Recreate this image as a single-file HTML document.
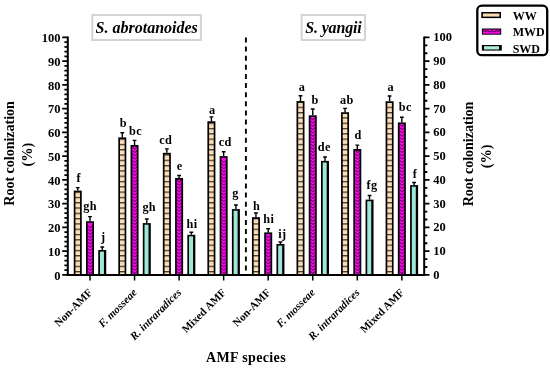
<!DOCTYPE html>
<html><head><meta charset="utf-8"><title>Root colonization</title>
<style>html,body{margin:0;padding:0;background:#fff}svg{display:block}</style></head>
<body>
<svg width="550" height="368" viewBox="0 0 550 368" font-family="'Liberation Serif', 'Times New Roman', serif" font-weight="bold">
<defs>
<pattern id="pw" x="0" y="106.7" width="60" height="5.3" patternUnits="userSpaceOnUse"><rect width="60" height="5.3" fill="#fde2bc"/><rect y="0" width="60" height="1.3" fill="#40352b"/><rect y="2.85" width="60" height="0.6" fill="#f6d3a8"/></pattern>
<pattern id="pm" x="0" y="0" width="60" height="3.27" patternUnits="userSpaceOnUse"><rect width="60" height="3.27" fill="#ff0aee"/></pattern>
</defs>
<rect width="550" height="368" fill="#fff"/>
<rect x="74.60" y="191.44" width="6.30" height="83.46" fill="url(#pw)" stroke="#000" stroke-width="1.7"/>
<path d="M77.75 190.59V187.02M75.85 187.62H79.65" stroke="#000" stroke-width="1.4" fill="none"/>
<text transform="translate(78.65 181.90) scale(1.06 1)" font-size="11.6" text-anchor="middle">f</text>
<rect x="86.85" y="222.07" width="6.30" height="52.83" fill="#ff0aee"/>
<path d="M87.40 225.63L90.30 227.73L92.60 225.63M87.40 228.90L90.30 231.00L92.60 228.90M87.40 232.17L90.30 234.27L92.60 232.17M87.40 235.44L90.30 237.54L92.60 235.44M87.40 238.71L90.30 240.81L92.60 238.71M87.40 241.98L90.30 244.08L92.60 241.98M87.40 245.25L90.30 247.35L92.60 245.25M87.40 248.52L90.30 250.62L92.60 248.52M87.40 251.79L90.30 253.89L92.60 251.79M87.40 255.06L90.30 257.16L92.60 255.06M87.40 258.33L90.30 260.43L92.60 258.33M87.40 261.60L90.30 263.70L92.60 261.60M87.40 264.87L90.30 266.97L92.60 264.87M87.40 268.14L90.30 270.24L92.60 268.14M87.40 271.41L90.30 273.51L92.60 271.41" stroke="#7a0078" stroke-width="1.1" fill="none" stroke-linejoin="miter"/>
<rect x="86.85" y="222.07" width="6.30" height="52.83" fill="none" stroke="#000" stroke-width="1.7"/>
<path d="M90.00 221.22V216.00M88.10 216.60H91.90" stroke="#000" stroke-width="1.4" fill="none"/>
<text transform="translate(90.10 209.90) scale(1.06 1)" font-size="11.6" text-anchor="middle" letter-spacing="0.3">gh</text>
<rect x="98.25" y="249.96" width="8.00" height="24.94" fill="#000"/>
<rect x="99.95" y="251.56" width="4.00" height="23.34" fill="#9fe8d8"/>
<path d="M102.25 249.96V246.40M100.35 247.00H104.15" stroke="#000" stroke-width="1.4" fill="none"/>
<text transform="translate(103.10 240.70) scale(1.06 1)" font-size="11.6" text-anchor="middle">j</text>
<rect x="119.15" y="138.24" width="6.30" height="136.66" fill="url(#pw)" stroke="#000" stroke-width="1.7"/>
<path d="M122.30 137.39V132.16M120.40 132.76H124.20" stroke="#000" stroke-width="1.4" fill="none"/>
<text transform="translate(123.25 126.90) scale(1.06 1)" font-size="11.6" text-anchor="middle">b</text>
<rect x="131.40" y="145.84" width="6.30" height="129.06" fill="#ff0aee"/>
<path d="M131.95 147.15L134.85 149.25L137.15 147.15M131.95 150.42L134.85 152.52L137.15 150.42M131.95 153.69L134.85 155.79L137.15 153.69M131.95 156.96L134.85 159.06L137.15 156.96M131.95 160.23L134.85 162.33L137.15 160.23M131.95 163.50L134.85 165.60L137.15 163.50M131.95 166.77L134.85 168.87L137.15 166.77M131.95 170.04L134.85 172.14L137.15 170.04M131.95 173.31L134.85 175.41L137.15 173.31M131.95 176.58L134.85 178.68L137.15 176.58M131.95 179.85L134.85 181.95L137.15 179.85M131.95 183.12L134.85 185.22L137.15 183.12M131.95 186.39L134.85 188.49L137.15 186.39M131.95 189.66L134.85 191.76L137.15 189.66M131.95 192.93L134.85 195.03L137.15 192.93M131.95 196.20L134.85 198.30L137.15 196.20M131.95 199.47L134.85 201.57L137.15 199.47M131.95 202.74L134.85 204.84L137.15 202.74M131.95 206.01L134.85 208.11L137.15 206.01M131.95 209.28L134.85 211.38L137.15 209.28M131.95 212.55L134.85 214.65L137.15 212.55M131.95 215.82L134.85 217.92L137.15 215.82M131.95 219.09L134.85 221.19L137.15 219.09M131.95 222.36L134.85 224.46L137.15 222.36M131.95 225.63L134.85 227.73L137.15 225.63M131.95 228.90L134.85 231.00L137.15 228.90M131.95 232.17L134.85 234.27L137.15 232.17M131.95 235.44L134.85 237.54L137.15 235.44M131.95 238.71L134.85 240.81L137.15 238.71M131.95 241.98L134.85 244.08L137.15 241.98M131.95 245.25L134.85 247.35L137.15 245.25M131.95 248.52L134.85 250.62L137.15 248.52M131.95 251.79L134.85 253.89L137.15 251.79M131.95 255.06L134.85 257.16L137.15 255.06M131.95 258.33L134.85 260.43L137.15 258.33M131.95 261.60L134.85 263.70L137.15 261.60M131.95 264.87L134.85 266.97L137.15 264.87M131.95 268.14L134.85 270.24L137.15 268.14M131.95 271.41L134.85 273.51L137.15 271.41" stroke="#7a0078" stroke-width="1.1" fill="none" stroke-linejoin="miter"/>
<rect x="131.40" y="145.84" width="6.30" height="129.06" fill="none" stroke="#000" stroke-width="1.7"/>
<path d="M134.55 144.99V139.76M132.65 140.36H136.45" stroke="#000" stroke-width="1.4" fill="none"/>
<text transform="translate(135.50 135.40) scale(1.06 1)" font-size="11.6" text-anchor="middle" letter-spacing="0.3">bc</text>
<rect x="142.80" y="223.12" width="8.00" height="51.78" fill="#000"/>
<rect x="144.50" y="224.72" width="4.00" height="50.18" fill="#9fe8d8"/>
<path d="M146.80 223.12V218.37M144.90 218.97H148.70" stroke="#000" stroke-width="1.4" fill="none"/>
<text transform="translate(149.20 210.90) scale(1.06 1)" font-size="11.6" text-anchor="middle" letter-spacing="0.3">gh</text>
<rect x="163.70" y="153.67" width="6.30" height="121.22" fill="url(#pw)" stroke="#000" stroke-width="1.7"/>
<path d="M166.85 152.82V148.31M164.95 148.91H168.75" stroke="#000" stroke-width="1.4" fill="none"/>
<text transform="translate(165.80 143.90) scale(1.06 1)" font-size="11.6" text-anchor="middle" letter-spacing="0.3">cd</text>
<rect x="175.95" y="178.85" width="6.30" height="96.05" fill="#ff0aee"/>
<path d="M176.50 179.85L179.40 181.95L181.70 179.85M176.50 183.12L179.40 185.22L181.70 183.12M176.50 186.39L179.40 188.49L181.70 186.39M176.50 189.66L179.40 191.76L181.70 189.66M176.50 192.93L179.40 195.03L181.70 192.93M176.50 196.20L179.40 198.30L181.70 196.20M176.50 199.47L179.40 201.57L181.70 199.47M176.50 202.74L179.40 204.84L181.70 202.74M176.50 206.01L179.40 208.11L181.70 206.01M176.50 209.28L179.40 211.38L181.70 209.28M176.50 212.55L179.40 214.65L181.70 212.55M176.50 215.82L179.40 217.92L181.70 215.82M176.50 219.09L179.40 221.19L181.70 219.09M176.50 222.36L179.40 224.46L181.70 222.36M176.50 225.63L179.40 227.73L181.70 225.63M176.50 228.90L179.40 231.00L181.70 228.90M176.50 232.17L179.40 234.27L181.70 232.17M176.50 235.44L179.40 237.54L181.70 235.44M176.50 238.71L179.40 240.81L181.70 238.71M176.50 241.98L179.40 244.08L181.70 241.98M176.50 245.25L179.40 247.35L181.70 245.25M176.50 248.52L179.40 250.62L181.70 248.52M176.50 251.79L179.40 253.89L181.70 251.79M176.50 255.06L179.40 257.16L181.70 255.06M176.50 258.33L179.40 260.43L181.70 258.33M176.50 261.60L179.40 263.70L181.70 261.60M176.50 264.87L179.40 266.97L181.70 264.87M176.50 268.14L179.40 270.24L181.70 268.14M176.50 271.41L179.40 273.51L181.70 271.41" stroke="#7a0078" stroke-width="1.1" fill="none" stroke-linejoin="miter"/>
<rect x="175.95" y="178.85" width="6.30" height="96.05" fill="none" stroke="#000" stroke-width="1.7"/>
<path d="M179.10 178.00V174.91M177.20 175.51H181.00" stroke="#000" stroke-width="1.4" fill="none"/>
<text transform="translate(179.50 169.90) scale(1.06 1)" font-size="11.6" text-anchor="middle">e</text>
<rect x="187.35" y="234.76" width="8.00" height="40.14" fill="#000"/>
<rect x="189.05" y="236.36" width="4.00" height="38.54" fill="#9fe8d8"/>
<path d="M191.35 234.76V231.67M189.45 232.27H193.25" stroke="#000" stroke-width="1.4" fill="none"/>
<text transform="translate(192.00 228.20) scale(1.06 1)" font-size="11.6" text-anchor="middle" letter-spacing="0.3">hi</text>
<rect x="208.25" y="122.09" width="6.30" height="152.81" fill="url(#pw)" stroke="#000" stroke-width="1.7"/>
<path d="M211.40 121.24V116.25M209.50 116.85H213.30" stroke="#000" stroke-width="1.4" fill="none"/>
<text transform="translate(212.00 114.20) scale(1.06 1)" font-size="11.6" text-anchor="middle">a</text>
<rect x="220.50" y="157.00" width="6.30" height="117.90" fill="#ff0aee"/>
<path d="M221.05 160.23L223.95 162.33L226.25 160.23M221.05 163.50L223.95 165.60L226.25 163.50M221.05 166.77L223.95 168.87L226.25 166.77M221.05 170.04L223.95 172.14L226.25 170.04M221.05 173.31L223.95 175.41L226.25 173.31M221.05 176.58L223.95 178.68L226.25 176.58M221.05 179.85L223.95 181.95L226.25 179.85M221.05 183.12L223.95 185.22L226.25 183.12M221.05 186.39L223.95 188.49L226.25 186.39M221.05 189.66L223.95 191.76L226.25 189.66M221.05 192.93L223.95 195.03L226.25 192.93M221.05 196.20L223.95 198.30L226.25 196.20M221.05 199.47L223.95 201.57L226.25 199.47M221.05 202.74L223.95 204.84L226.25 202.74M221.05 206.01L223.95 208.11L226.25 206.01M221.05 209.28L223.95 211.38L226.25 209.28M221.05 212.55L223.95 214.65L226.25 212.55M221.05 215.82L223.95 217.92L226.25 215.82M221.05 219.09L223.95 221.19L226.25 219.09M221.05 222.36L223.95 224.46L226.25 222.36M221.05 225.63L223.95 227.73L226.25 225.63M221.05 228.90L223.95 231.00L226.25 228.90M221.05 232.17L223.95 234.27L226.25 232.17M221.05 235.44L223.95 237.54L226.25 235.44M221.05 238.71L223.95 240.81L226.25 238.71M221.05 241.98L223.95 244.08L226.25 241.98M221.05 245.25L223.95 247.35L226.25 245.25M221.05 248.52L223.95 250.62L226.25 248.52M221.05 251.79L223.95 253.89L226.25 251.79M221.05 255.06L223.95 257.16L226.25 255.06M221.05 258.33L223.95 260.43L226.25 258.33M221.05 261.60L223.95 263.70L226.25 261.60M221.05 264.87L223.95 266.97L226.25 264.87M221.05 268.14L223.95 270.24L226.25 268.14M221.05 271.41L223.95 273.51L226.25 271.41" stroke="#7a0078" stroke-width="1.1" fill="none" stroke-linejoin="miter"/>
<rect x="220.50" y="157.00" width="6.30" height="117.90" fill="none" stroke="#000" stroke-width="1.7"/>
<path d="M223.65 156.15V151.16M221.75 151.76H225.55" stroke="#000" stroke-width="1.4" fill="none"/>
<text transform="translate(225.20 145.60) scale(1.06 1)" font-size="11.6" text-anchor="middle" letter-spacing="0.3">cd</text>
<rect x="231.90" y="209.11" width="8.00" height="65.79" fill="#000"/>
<rect x="233.60" y="210.71" width="4.00" height="64.19" fill="#9fe8d8"/>
<path d="M235.90 209.11V204.36M234.00 204.96H237.80" stroke="#000" stroke-width="1.4" fill="none"/>
<text transform="translate(235.20 197.40) scale(1.06 1)" font-size="11.6" text-anchor="middle">g</text>
<rect x="252.80" y="218.04" width="6.30" height="56.86" fill="url(#pw)" stroke="#000" stroke-width="1.7"/>
<path d="M255.95 217.19V212.44M254.05 213.04H257.85" stroke="#000" stroke-width="1.4" fill="none"/>
<text transform="translate(256.40 209.90) scale(1.06 1)" font-size="11.6" text-anchor="middle">h</text>
<rect x="265.05" y="233.24" width="6.30" height="41.66" fill="#ff0aee"/>
<path d="M265.60 235.44L268.50 237.54L270.80 235.44M265.60 238.71L268.50 240.81L270.80 238.71M265.60 241.98L268.50 244.08L270.80 241.98M265.60 245.25L268.50 247.35L270.80 245.25M265.60 248.52L268.50 250.62L270.80 248.52M265.60 251.79L268.50 253.89L270.80 251.79M265.60 255.06L268.50 257.16L270.80 255.06M265.60 258.33L268.50 260.43L270.80 258.33M265.60 261.60L268.50 263.70L270.80 261.60M265.60 264.87L268.50 266.97L270.80 264.87M265.60 268.14L268.50 270.24L270.80 268.14M265.60 271.41L268.50 273.51L270.80 271.41" stroke="#7a0078" stroke-width="1.1" fill="none" stroke-linejoin="miter"/>
<rect x="265.05" y="233.24" width="6.30" height="41.66" fill="none" stroke="#000" stroke-width="1.7"/>
<path d="M268.20 232.39V228.11M266.30 228.71H270.10" stroke="#000" stroke-width="1.4" fill="none"/>
<text transform="translate(268.80 223.10) scale(1.06 1)" font-size="11.6" text-anchor="middle" letter-spacing="0.3">hi</text>
<rect x="276.45" y="244.02" width="8.00" height="30.88" fill="#000"/>
<rect x="278.15" y="245.62" width="4.00" height="29.27" fill="#9fe8d8"/>
<path d="M280.45 244.02V241.41M278.55 242.01H282.35" stroke="#000" stroke-width="1.4" fill="none"/>
<text transform="translate(282.40 237.80) scale(1.06 1)" font-size="11.6" text-anchor="middle" letter-spacing="0.3">ij</text>
<rect x="297.35" y="101.90" width="6.30" height="173.00" fill="url(#pw)" stroke="#000" stroke-width="1.7"/>
<path d="M300.50 101.05V95.11M298.60 95.71H302.40" stroke="#000" stroke-width="1.4" fill="none"/>
<text transform="translate(301.75 90.70) scale(1.06 1)" font-size="11.6" text-anchor="middle">a</text>
<rect x="309.60" y="116.15" width="6.30" height="158.75" fill="#ff0aee"/>
<path d="M310.15 117.72L313.05 119.82L315.35 117.72M310.15 120.99L313.05 123.09L315.35 120.99M310.15 124.26L313.05 126.36L315.35 124.26M310.15 127.53L313.05 129.63L315.35 127.53M310.15 130.80L313.05 132.90L315.35 130.80M310.15 134.07L313.05 136.17L315.35 134.07M310.15 137.34L313.05 139.44L315.35 137.34M310.15 140.61L313.05 142.71L315.35 140.61M310.15 143.88L313.05 145.98L315.35 143.88M310.15 147.15L313.05 149.25L315.35 147.15M310.15 150.42L313.05 152.52L315.35 150.42M310.15 153.69L313.05 155.79L315.35 153.69M310.15 156.96L313.05 159.06L315.35 156.96M310.15 160.23L313.05 162.33L315.35 160.23M310.15 163.50L313.05 165.60L315.35 163.50M310.15 166.77L313.05 168.87L315.35 166.77M310.15 170.04L313.05 172.14L315.35 170.04M310.15 173.31L313.05 175.41L315.35 173.31M310.15 176.58L313.05 178.68L315.35 176.58M310.15 179.85L313.05 181.95L315.35 179.85M310.15 183.12L313.05 185.22L315.35 183.12M310.15 186.39L313.05 188.49L315.35 186.39M310.15 189.66L313.05 191.76L315.35 189.66M310.15 192.93L313.05 195.03L315.35 192.93M310.15 196.20L313.05 198.30L315.35 196.20M310.15 199.47L313.05 201.57L315.35 199.47M310.15 202.74L313.05 204.84L315.35 202.74M310.15 206.01L313.05 208.11L315.35 206.01M310.15 209.28L313.05 211.38L315.35 209.28M310.15 212.55L313.05 214.65L315.35 212.55M310.15 215.82L313.05 217.92L315.35 215.82M310.15 219.09L313.05 221.19L315.35 219.09M310.15 222.36L313.05 224.46L315.35 222.36M310.15 225.63L313.05 227.73L315.35 225.63M310.15 228.90L313.05 231.00L315.35 228.90M310.15 232.17L313.05 234.27L315.35 232.17M310.15 235.44L313.05 237.54L315.35 235.44M310.15 238.71L313.05 240.81L315.35 238.71M310.15 241.98L313.05 244.08L315.35 241.98M310.15 245.25L313.05 247.35L315.35 245.25M310.15 248.52L313.05 250.62L315.35 248.52M310.15 251.79L313.05 253.89L315.35 251.79M310.15 255.06L313.05 257.16L315.35 255.06M310.15 258.33L313.05 260.43L315.35 258.33M310.15 261.60L313.05 263.70L315.35 261.60M310.15 264.87L313.05 266.97L315.35 264.87M310.15 268.14L313.05 270.24L315.35 268.14M310.15 271.41L313.05 273.51L315.35 271.41" stroke="#7a0078" stroke-width="1.1" fill="none" stroke-linejoin="miter"/>
<rect x="309.60" y="116.15" width="6.30" height="158.75" fill="none" stroke="#000" stroke-width="1.7"/>
<path d="M312.75 115.30V108.41M310.85 109.01H314.65" stroke="#000" stroke-width="1.4" fill="none"/>
<text transform="translate(315.00 104.40) scale(1.06 1)" font-size="11.6" text-anchor="middle">b</text>
<rect x="321.00" y="160.90" width="8.00" height="114.00" fill="#000"/>
<rect x="322.70" y="162.50" width="4.00" height="112.40" fill="#9fe8d8"/>
<path d="M325.00 160.90V156.39M323.10 156.99H326.90" stroke="#000" stroke-width="1.4" fill="none"/>
<text transform="translate(324.20 151.40) scale(1.06 1)" font-size="11.6" text-anchor="middle" letter-spacing="0.3">de</text>
<rect x="341.90" y="113.06" width="6.30" height="161.84" fill="url(#pw)" stroke="#000" stroke-width="1.7"/>
<path d="M345.05 112.21V107.82M343.15 108.42H346.95" stroke="#000" stroke-width="1.4" fill="none"/>
<text transform="translate(346.90 103.70) scale(1.06 1)" font-size="11.6" text-anchor="middle" letter-spacing="0.3">ab</text>
<rect x="354.15" y="149.87" width="6.30" height="125.03" fill="#ff0aee"/>
<path d="M354.70 150.42L357.60 152.52L359.90 150.42M354.70 153.69L357.60 155.79L359.90 153.69M354.70 156.96L357.60 159.06L359.90 156.96M354.70 160.23L357.60 162.33L359.90 160.23M354.70 163.50L357.60 165.60L359.90 163.50M354.70 166.77L357.60 168.87L359.90 166.77M354.70 170.04L357.60 172.14L359.90 170.04M354.70 173.31L357.60 175.41L359.90 173.31M354.70 176.58L357.60 178.68L359.90 176.58M354.70 179.85L357.60 181.95L359.90 179.85M354.70 183.12L357.60 185.22L359.90 183.12M354.70 186.39L357.60 188.49L359.90 186.39M354.70 189.66L357.60 191.76L359.90 189.66M354.70 192.93L357.60 195.03L359.90 192.93M354.70 196.20L357.60 198.30L359.90 196.20M354.70 199.47L357.60 201.57L359.90 199.47M354.70 202.74L357.60 204.84L359.90 202.74M354.70 206.01L357.60 208.11L359.90 206.01M354.70 209.28L357.60 211.38L359.90 209.28M354.70 212.55L357.60 214.65L359.90 212.55M354.70 215.82L357.60 217.92L359.90 215.82M354.70 219.09L357.60 221.19L359.90 219.09M354.70 222.36L357.60 224.46L359.90 222.36M354.70 225.63L357.60 227.73L359.90 225.63M354.70 228.90L357.60 231.00L359.90 228.90M354.70 232.17L357.60 234.27L359.90 232.17M354.70 235.44L357.60 237.54L359.90 235.44M354.70 238.71L357.60 240.81L359.90 238.71M354.70 241.98L357.60 244.08L359.90 241.98M354.70 245.25L357.60 247.35L359.90 245.25M354.70 248.52L357.60 250.62L359.90 248.52M354.70 251.79L357.60 253.89L359.90 251.79M354.70 255.06L357.60 257.16L359.90 255.06M354.70 258.33L357.60 260.43L359.90 258.33M354.70 261.60L357.60 263.70L359.90 261.60M354.70 264.87L357.60 266.97L359.90 264.87M354.70 268.14L357.60 270.24L359.90 268.14M354.70 271.41L357.60 273.51L359.90 271.41" stroke="#7a0078" stroke-width="1.1" fill="none" stroke-linejoin="miter"/>
<rect x="354.15" y="149.87" width="6.30" height="125.03" fill="none" stroke="#000" stroke-width="1.7"/>
<path d="M357.30 149.02V144.51M355.40 145.11H359.20" stroke="#000" stroke-width="1.4" fill="none"/>
<text transform="translate(357.90 138.70) scale(1.06 1)" font-size="11.6" text-anchor="middle">d</text>
<rect x="365.55" y="199.61" width="8.00" height="75.29" fill="#000"/>
<rect x="367.25" y="201.21" width="4.00" height="73.69" fill="#9fe8d8"/>
<path d="M369.55 199.61V194.86M367.65 195.46H371.45" stroke="#000" stroke-width="1.4" fill="none"/>
<text transform="translate(372.00 189.40) scale(1.06 1)" font-size="11.6" text-anchor="middle" letter-spacing="0.3">fg</text>
<rect x="386.45" y="102.14" width="6.30" height="172.76" fill="url(#pw)" stroke="#000" stroke-width="1.7"/>
<path d="M389.60 101.29V95.35M387.70 95.95H391.50" stroke="#000" stroke-width="1.4" fill="none"/>
<text transform="translate(390.60 91.40) scale(1.06 1)" font-size="11.6" text-anchor="middle">a</text>
<rect x="398.70" y="123.27" width="6.30" height="151.62" fill="#ff0aee"/>
<path d="M399.25 124.26L402.15 126.36L404.45 124.26M399.25 127.53L402.15 129.63L404.45 127.53M399.25 130.80L402.15 132.90L404.45 130.80M399.25 134.07L402.15 136.17L404.45 134.07M399.25 137.34L402.15 139.44L404.45 137.34M399.25 140.61L402.15 142.71L404.45 140.61M399.25 143.88L402.15 145.98L404.45 143.88M399.25 147.15L402.15 149.25L404.45 147.15M399.25 150.42L402.15 152.52L404.45 150.42M399.25 153.69L402.15 155.79L404.45 153.69M399.25 156.96L402.15 159.06L404.45 156.96M399.25 160.23L402.15 162.33L404.45 160.23M399.25 163.50L402.15 165.60L404.45 163.50M399.25 166.77L402.15 168.87L404.45 166.77M399.25 170.04L402.15 172.14L404.45 170.04M399.25 173.31L402.15 175.41L404.45 173.31M399.25 176.58L402.15 178.68L404.45 176.58M399.25 179.85L402.15 181.95L404.45 179.85M399.25 183.12L402.15 185.22L404.45 183.12M399.25 186.39L402.15 188.49L404.45 186.39M399.25 189.66L402.15 191.76L404.45 189.66M399.25 192.93L402.15 195.03L404.45 192.93M399.25 196.20L402.15 198.30L404.45 196.20M399.25 199.47L402.15 201.57L404.45 199.47M399.25 202.74L402.15 204.84L404.45 202.74M399.25 206.01L402.15 208.11L404.45 206.01M399.25 209.28L402.15 211.38L404.45 209.28M399.25 212.55L402.15 214.65L404.45 212.55M399.25 215.82L402.15 217.92L404.45 215.82M399.25 219.09L402.15 221.19L404.45 219.09M399.25 222.36L402.15 224.46L404.45 222.36M399.25 225.63L402.15 227.73L404.45 225.63M399.25 228.90L402.15 231.00L404.45 228.90M399.25 232.17L402.15 234.27L404.45 232.17M399.25 235.44L402.15 237.54L404.45 235.44M399.25 238.71L402.15 240.81L404.45 238.71M399.25 241.98L402.15 244.08L404.45 241.98M399.25 245.25L402.15 247.35L404.45 245.25M399.25 248.52L402.15 250.62L404.45 248.52M399.25 251.79L402.15 253.89L404.45 251.79M399.25 255.06L402.15 257.16L404.45 255.06M399.25 258.33L402.15 260.43L404.45 258.33M399.25 261.60L402.15 263.70L404.45 261.60M399.25 264.87L402.15 266.97L404.45 264.87M399.25 268.14L402.15 270.24L404.45 268.14M399.25 271.41L402.15 273.51L404.45 271.41" stroke="#7a0078" stroke-width="1.1" fill="none" stroke-linejoin="miter"/>
<rect x="398.70" y="123.27" width="6.30" height="151.62" fill="none" stroke="#000" stroke-width="1.7"/>
<path d="M401.85 122.42V116.61M399.95 117.21H403.75" stroke="#000" stroke-width="1.4" fill="none"/>
<text transform="translate(405.30 110.80) scale(1.06 1)" font-size="11.6" text-anchor="middle" letter-spacing="0.3">bc</text>
<rect x="410.10" y="185.12" width="8.00" height="89.77" fill="#000"/>
<rect x="411.80" y="186.72" width="4.00" height="88.17" fill="#9fe8d8"/>
<path d="M414.10 185.12V181.92M412.20 182.52H416.00" stroke="#000" stroke-width="1.4" fill="none"/>
<text transform="translate(414.90 177.90) scale(1.06 1)" font-size="11.6" text-anchor="middle">f</text>
<path d="M67.8 36.60V274.9M424.2 36.60V274.9" stroke="#000" stroke-width="2" fill="none"/>
<path d="M66.8 274.9H425.2" stroke="#000" stroke-width="2" fill="none"/>
<path d="M62.20 274.90H67.8M424.2 274.90h5.3M64.40 270.15H67.8M64.40 265.40H67.8M64.40 260.65H67.8M64.40 255.90H67.8M62.20 251.15H67.8M424.2 251.15h5.3M64.40 246.40H67.8M64.40 241.65H67.8M64.40 236.90H67.8M64.40 232.15H67.8M62.20 227.40H67.8M424.2 227.40h5.3M64.40 222.65H67.8M64.40 217.90H67.8M64.40 213.15H67.8M64.40 208.40H67.8M62.20 203.65H67.8M424.2 203.65h5.3M64.40 198.90H67.8M64.40 194.15H67.8M64.40 189.40H67.8M64.40 184.65H67.8M62.20 179.90H67.8M424.2 179.90h5.3M64.40 175.15H67.8M64.40 170.40H67.8M64.40 165.65H67.8M64.40 160.90H67.8M62.20 156.15H67.8M424.2 156.15h5.3M64.40 151.40H67.8M64.40 146.65H67.8M64.40 141.90H67.8M64.40 137.15H67.8M62.20 132.40H67.8M424.2 132.40h5.3M64.40 127.65H67.8M64.40 122.90H67.8M64.40 118.15H67.8M64.40 113.40H67.8M62.20 108.65H67.8M424.2 108.65h5.3M64.40 103.90H67.8M64.40 99.15H67.8M64.40 94.40H67.8M64.40 89.65H67.8M62.20 84.90H67.8M424.2 84.90h5.3M64.40 80.15H67.8M64.40 75.40H67.8M64.40 70.65H67.8M64.40 65.90H67.8M62.20 61.15H67.8M424.2 61.15h5.3M64.40 56.40H67.8M64.40 51.65H67.8M64.40 46.90H67.8M64.40 42.15H67.8M62.20 37.40H67.8M424.2 37.40h5.3M424.2 266.98h3.2M424.2 259.07h3.2M424.2 243.23h3.2M424.2 235.32h3.2M424.2 219.48h3.2M424.2 211.57h3.2M424.2 195.73h3.2M424.2 187.82h3.2M424.2 171.98h3.2M424.2 164.07h3.2M424.2 148.23h3.2M424.2 140.32h3.2M424.2 124.48h3.2M424.2 116.57h3.2M424.2 100.73h3.2M424.2 92.82h3.2M424.2 76.98h3.2M424.2 69.07h3.2M424.2 53.23h3.2M424.2 45.32h3.2" stroke="#000" stroke-width="1.8" fill="none"/>
<text transform="translate(60.50 279.60) scale(0.95 1)" font-size="13.2" text-anchor="end">0</text>
<text transform="translate(433.20 278.90) scale(0.95 1)" font-size="13.2">0</text>
<text transform="translate(60.50 255.85) scale(0.95 1)" font-size="13.2" text-anchor="end">10</text>
<text transform="translate(433.20 255.15) scale(0.95 1)" font-size="13.2">10</text>
<text transform="translate(60.50 232.10) scale(0.95 1)" font-size="13.2" text-anchor="end">20</text>
<text transform="translate(433.20 231.40) scale(0.95 1)" font-size="13.2">20</text>
<text transform="translate(60.50 208.35) scale(0.95 1)" font-size="13.2" text-anchor="end">30</text>
<text transform="translate(433.20 207.65) scale(0.95 1)" font-size="13.2">30</text>
<text transform="translate(60.50 184.60) scale(0.95 1)" font-size="13.2" text-anchor="end">40</text>
<text transform="translate(433.20 183.90) scale(0.95 1)" font-size="13.2">40</text>
<text transform="translate(60.50 160.85) scale(0.95 1)" font-size="13.2" text-anchor="end">50</text>
<text transform="translate(433.20 160.15) scale(0.95 1)" font-size="13.2">50</text>
<text transform="translate(60.50 137.10) scale(0.95 1)" font-size="13.2" text-anchor="end">60</text>
<text transform="translate(433.20 136.40) scale(0.95 1)" font-size="13.2">60</text>
<text transform="translate(60.50 113.35) scale(0.95 1)" font-size="13.2" text-anchor="end">70</text>
<text transform="translate(433.20 112.65) scale(0.95 1)" font-size="13.2">70</text>
<text transform="translate(60.50 89.60) scale(0.95 1)" font-size="13.2" text-anchor="end">80</text>
<text transform="translate(433.20 88.90) scale(0.95 1)" font-size="13.2">80</text>
<text transform="translate(60.50 65.85) scale(0.95 1)" font-size="13.2" text-anchor="end">90</text>
<text transform="translate(433.20 65.15) scale(0.95 1)" font-size="13.2">90</text>
<text transform="translate(60.50 42.10) scale(0.95 1)" font-size="13.2" text-anchor="end">100</text>
<text transform="translate(433.20 41.40) scale(0.95 1)" font-size="13.2">100</text>
<path d="M90.00 274.9v5.6M134.55 274.9v5.6M179.10 274.9v5.6M223.65 274.9v5.6M268.20 274.9v5.6M312.75 274.9v5.6M357.30 274.9v5.6M401.85 274.9v5.6" stroke="#000" stroke-width="1.5" fill="none"/>
<text transform="translate(90.40 290.60) rotate(-45)" x="0" y="3.6" font-size="11" text-anchor="end">Non-AMF</text>
<text transform="translate(134.95 290.60) rotate(-45)" x="0" y="3.6" font-size="11" text-anchor="end" font-style="italic">F. mosseae</text>
<text transform="translate(179.50 290.60) rotate(-45)" x="0" y="3.6" font-size="11" text-anchor="end" font-style="italic">R. intraradices</text>
<text transform="translate(224.05 290.60) rotate(-45)" x="0" y="3.6" font-size="11" text-anchor="end">Mixed AMF</text>
<text transform="translate(268.60 290.60) rotate(-45)" x="0" y="3.6" font-size="11" text-anchor="end">Non-AMF</text>
<text transform="translate(313.15 290.60) rotate(-45)" x="0" y="3.6" font-size="11" text-anchor="end" font-style="italic">F. mosseae</text>
<text transform="translate(357.70 290.60) rotate(-45)" x="0" y="3.6" font-size="11" text-anchor="end" font-style="italic">R. intraradices</text>
<text transform="translate(402.25 290.60) rotate(-45)" x="0" y="3.6" font-size="11" text-anchor="end">Mixed AMF</text>
<path d="M245.9 37.5V274.9" stroke="#000" stroke-width="1.9" stroke-dasharray="5.0 4.12" fill="none"/>
<rect x="92.3" y="15" width="108.6" height="25.0" fill="#fff" stroke="#d4d4d4" stroke-width="2"/>
<text x="146.7" y="33" font-size="16" font-style="italic" text-anchor="middle">S. abrotanoides</text>
<rect x="301.7" y="15" width="63.3" height="25.0" fill="#fff" stroke="#d4d4d4" stroke-width="2"/>
<text x="333.5" y="33" font-size="16" font-style="italic" text-anchor="middle" textLength="56.5">S. yangii</text>
<rect x="477.3" y="5.7" width="69.9" height="49.5" rx="4.5" ry="4.5" fill="#fff" stroke="#000" stroke-width="2.3"/>
<rect x="481.3" y="12.0" width="19.7" height="6.1" fill="#000"/><rect x="482.9" y="13.5" width="16.5" height="3.1" fill="#f9dcb0"/>
<rect x="481.9" y="28.5" width="19.3" height="6.2" fill="#000"/><rect x="483.0" y="29.6" width="17.0" height="4.1" fill="#ff0aee"/>
<path d="M483 31.6l1.5 -1 1.5 1 1.5 -1.2 1.5 1.2 1.5 0 1.5 -1.2 1.5 1.2 1.5 0 1.5 -1.2 1.5 1.2 1.5 -1 1.5 1" stroke="#600060" stroke-width="1.2" fill="none"/>
<rect x="481.9" y="45.0" width="19.9" height="5.6" fill="#000"/><rect x="484.0" y="46.4" width="15.0" height="2.9" fill="#d8f6ef"/>
<rect x="484.3" y="46.4" width="3.8" height="2.9" fill="#9fe8d8"/><rect x="489.3" y="46.4" width="3.8" height="2.9" fill="#9fe8d8"/><rect x="494.4" y="46.4" width="4.0" height="2.9" fill="#9fe8d8"/>
<text x="512.7" y="19.50" font-size="12">WW</text>
<text x="512.7" y="36.20" font-size="12">MWD</text>
<text x="512.7" y="52.90" font-size="12">SWD</text>
<text transform="translate(14.3 153.4) rotate(-90)" font-size="14" text-anchor="middle">Root colonization</text>
<text transform="translate(32.1 154.6) rotate(-90)" font-size="14.3" text-anchor="middle">(%)</text>
<text transform="translate(472.9 154.0) rotate(-90)" font-size="14" text-anchor="middle">Root colonization</text>
<text transform="translate(490.9 156.3) rotate(-90)" font-size="14.3" text-anchor="middle">(%)</text>
<text x="245.8" y="362.2" font-size="14" text-anchor="middle" textLength="79.6">AMF species</text>
</svg>
</body></html>
